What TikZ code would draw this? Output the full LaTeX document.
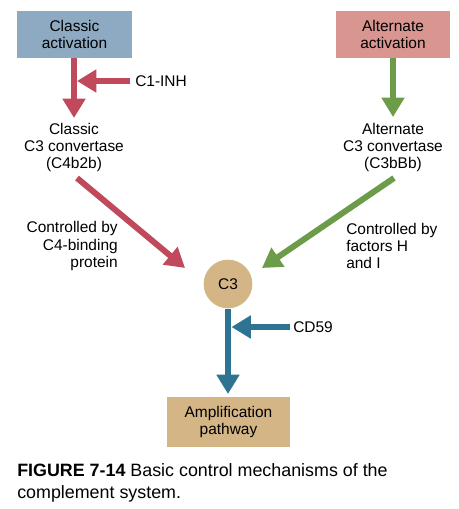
\documentclass[tikz,border=0pt]{standalone}
\usepackage{fontspec}
\setmainfont{Liberation Sans}
\usetikzlibrary{arrows.meta}
\definecolor{classicblue}{HTML}{8DAAC2}
\definecolor{altpink}{HTML}{D9958F}
\definecolor{cthree}{HTML}{D4B586}
\definecolor{redarrow}{HTML}{C04A5B}
\definecolor{greenarrow}{HTML}{6C9B49}
\definecolor{bluearrow}{HTML}{2D7392}
\tikzset{
	lbl/.style={font=\fontsize{11.6}{12.75}\selectfont, align=center, inner sep=0pt},
	flow/.style={line width=4.5pt, -{Triangle[width=16.5pt,length=14.5pt]}},
}
\begin{document}
\begin{tikzpicture}[x=0.75pt, y=-0.75pt]
			%%%%% START %%%%%
			\useasboundingbox (0, 0) rectangle (459, 509);
			
			% activation boxes
			\fill[classicblue] (17, 11) rectangle (132, 58);
			\node[lbl] (classic) at (74.5, 34.5) {Classic\\activation};
			\fill[altpink] (336, 11) rectangle (450, 58);
			\node[lbl] (alternate) at (393, 34.5) {Alternate\\activation};
			
			% convertases
			\node[lbl] (cconv) at (74, 147) {Classic\\C3 convertase\\(C4b2b)};
			\node[lbl] (aconv) at (393, 147) {Alternate\\C3 convertase\\(C3bBb)};
			
			% C3 and amplification
			\node[circle, fill=cthree, minimum size=36.5pt, inner sep=0pt, font=\fontsize{11.6}{12.75}\selectfont] (c3) at (228, 284) {C3};
			\fill[cthree] (167, 397) rectangle (290, 447);
			\node[lbl] (amp) at (228.5, 422) {Amplification\\pathway};
			
			% control labels
			\node[lbl, align=right, anchor=east] (cfour) at (118, 246) {Controlled by\\C4-binding\\protein};
			\node[lbl, align=left, anchor=west] (facth) at (346, 246) {Controlled by\\factors H\\and I};
			\node[lbl, anchor=west] (inh) at (135, 81) {C1-INH};
			\node[lbl, anchor=west] (cd59) at (293, 327) {CD59};
			
			\coordinate (inhtip) at (77, 81);
			\coordinate (cdtip) at (231.5, 327);
			
			% arrows
			\draw[flow, redarrow] (74, 58) -- (74, 118);
			\draw[flow, redarrow] (130, 81) -- (inhtip);
			\draw[flow, redarrow] (77, 178) -- (185, 268);
			
			\draw[flow, greenarrow] (393, 58) -- (393, 117);
			\draw[flow, greenarrow] (394, 178) -- (262, 268);
			
			\draw[flow, bluearrow] (c3.south) -- (228, 394);
			\draw[flow, bluearrow] (290, 327) -- (cdtip);
			
			% caption
			\node[anchor=north west, align=left, inner sep=0pt, font=\fontsize{13.4}{16.5}\selectfont] (caption) at (17, 463) {\textbf{FIGURE 7-14} Basic control mechanisms of the\\complement system.};
			%%%%% END %%%%%
		\end{tikzpicture}
\end{document}
